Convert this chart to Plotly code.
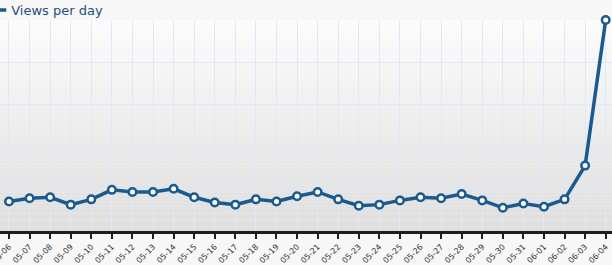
import plotly.graph_objects as go

dates = ["05-06","05-07","05-08","05-09","05-10","05-11","05-12","05-13","05-14","05-15",
         "05-16","05-17","05-18","05-19","05-20","05-21","05-22","05-23","05-24","05-25",
         "05-26","05-27","05-28","05-29","05-30","05-31","06-01","06-02","06-03","06-04"]
views = [28,31,32,25,30,39,37,37,40,32,
         27,25,30,28,33,37,30,24,25,29,
         32,31,35,29,22,26,23,30,62,200]

x_idx = list(range(len(dates)))

fig = go.Figure()
fig.add_trace(go.Scatter(
    x=x_idx, y=views, name="Views per day", mode="lines+markers",
    line=dict(color="#1b5a8f", width=3.5),
    marker=dict(symbol="circle", size=7.5, color="white",
                line=dict(color="#1b5a8f", width=2.5)),
    cliponaxis=False,
))

# gradient plot background
shapes = []
n = 60
top = (252, 252, 252)
bot = (222, 222, 222)
for i in range(n):
    t = i / (n - 1)
    c = tuple(round(top[k] + (bot[k] - top[k]) * t) for k in range(3))
    shapes.append(dict(type="rect", xref="paper", yref="paper",
                       x0=0, x1=1, y0=1 - (i + 1) / n, y1=1 - i / n,
                       fillcolor="rgb(%d,%d,%d)" % c, line=dict(width=0), layer="below"))

fig.update_layout(
    width=612, height=265,
    margin=dict(l=0, r=0, t=20, b=34, autoexpand=False),
    paper_bgcolor="#f7f7f7",
    plot_bgcolor="rgba(0,0,0,0)",
    font=dict(family="DejaVu Sans", color="#333333"),
    shapes=shapes,
    showlegend=True,
    legend=dict(x=-0.047, y=1.047, xanchor="left", yanchor="middle", orientation="h",
                bgcolor="rgba(0,0,0,0)", font=dict(size=13, color="#1f4f7f"),
                itemwidth=30, tracegroupgap=0),
    xaxis=dict(
        range=[-0.437, 29.306], tickmode="array", tickvals=x_idx, ticktext=dates,
        tickangle=-45, tickfont=dict(size=8, color="#333333"),
        ticklabeloverflow="allow",
        showgrid=True, gridcolor="#dde8fa", gridwidth=1,
        showline=True, linecolor="#1e1e1e", linewidth=3,
        ticks="outside", ticklen=5, tickwidth=2, tickcolor="#1e1e1e",
        zeroline=False, automargin=False, layer="above traces",
    ),
    yaxis=dict(
        range=[0, 200], tickmode="linear", tick0=0, dtick=40,
        showgrid=True, gridcolor="#dde8fa", gridwidth=1,
        showticklabels=False, zeroline=False, showline=False, automargin=False,
    ),
)

fig.write_html("out.html")
